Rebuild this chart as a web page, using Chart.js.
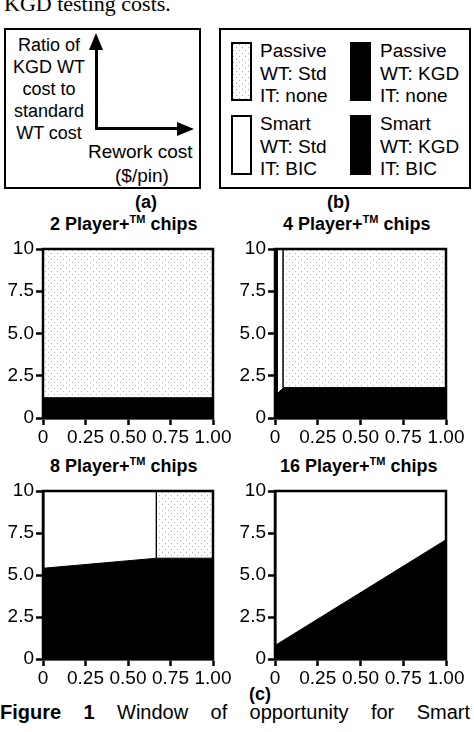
<!DOCTYPE html>
<html><head><meta charset="utf-8">
<script src="https://cdn.jsdelivr.net/npm/chart.js@4/dist/chart.umd.min.js"></script>
<style>
body{margin:0;width:474px;height:732px;position:relative;overflow:hidden;background:#fff;font-family:"Liberation Sans",Arial,sans-serif;color:#000}
.a{position:absolute;white-space:nowrap}
.box{position:absolute;border:2px solid #000;box-sizing:border-box}
.t{font-size:19px;line-height:22.5px}
.ttl{font-weight:bold;font-size:18px}
canvas{position:absolute}
.sw{position:absolute;border:2px solid #000;box-sizing:border-box}
</style></head><body>
<div class="a" style="left:4px;top:-9px;font-family:'Liberation Serif',serif;font-size:22px">KGD testing costs.</div>

<div class="box" style="left:4px;top:28px;width:197px;height:161px"></div>
<div class="a t" style="left:6px;top:34px;width:86px;text-align:center;line-height:22px;white-space:normal;font-size:18px">Ratio of KGD WT cost to standard WT cost</div>
<div class="a" style="left:95px;top:46px;width:3px;height:84px;background:#000"></div>
<div class="a" style="left:89px;top:33px;width:0;height:0;border-left:7px solid transparent;border-right:7px solid transparent;border-bottom:17px solid #000"></div>
<div class="a" style="left:95px;top:127px;width:84px;height:3px;background:#000"></div>
<div class="a" style="left:177px;top:122px;width:0;height:0;border-top:7px solid transparent;border-bottom:7px solid transparent;border-left:17px solid #000"></div>
<div class="a t" style="left:88px;top:141px">Rework cost</div>
<div class="a t" style="left:115px;top:165px">($/pin)</div>
<div class="a ttl" style="left:135px;top:192px">(a)</div>

<div class="box" style="left:219px;top:28px;width:252px;height:161px"></div>
<div class="sw" id="sw1" style="left:231px;top:42px;width:21px;height:59px"></div>
<div class="sw" style="left:231px;top:115px;width:21px;height:60px;background:#fff"></div>
<div class="sw" style="left:350px;top:42px;width:21px;height:59px;background:#000"></div>
<div class="sw" style="left:350px;top:115px;width:21px;height:60px;background:#000"></div>
<div class="a t" style="left:260px;top:40px">Passive<br>WT: Std<br>IT: none</div>
<div class="a t" style="left:260px;top:113px">Smart<br>WT: Std<br>IT: BIC</div>
<div class="a t" style="left:380px;top:40px">Passive<br>WT: KGD<br>IT: none</div>
<div class="a t" style="left:380px;top:113px">Smart<br>WT: KGD<br>IT: BIC</div>
<div class="a ttl" style="left:327px;top:192px">(b)</div>

<div class="a ttl" style="left:50px;top:213px">2 Player+<sup style="font-size:11px">TM</sup> chips</div>
<div class="a ttl" style="left:283px;top:213px">4 Player+<sup style="font-size:11px">TM</sup> chips</div>
<div class="a ttl" style="left:50px;top:455px">8 Player+<sup style="font-size:11px">TM</sup> chips</div>
<div class="a ttl" style="left:280px;top:455px">16 Player+<sup style="font-size:11px">TM</sup> chips</div>
<div class="a ttl" style="left:249px;top:684px">(c)</div>
<div class="a" style="left:0;top:701px;width:470px;font-size:20px;text-align:justify;text-align-last:justify;white-space:normal"><b>Figure 1</b> Window of opportunity for Smart</div>

<canvas id="c1"></canvas><canvas id="c2"></canvas><canvas id="c3"></canvas><canvas id="c4"></canvas>
<script>
// data
const xTicks=[0,0.25,0.5,0.75,1.0];
const xTickLabels=["0","0.25","0.50","0.75","1.00"];
const yTicks=[0,2.5,5,7.5,10];
const yTickLabels=["0","2.5","5.0","7.5","10"];
// panel 1 (2 chips)
const p1Black=[{x:0,y:1.2},{x:1,y:1.2}];
const p1Stipple=[{x:0,y:10},{x:1,y:10}];
// panel 2 (4 chips)
const p2Black=[{x:0,y:1.3},{x:0.05,y:1.8},{x:1,y:1.8}];
const p2Stipple=[{x:0.05,y:10},{x:1,y:10}];
const p2StippleBase=1.8;
const p2LineA=[{x:0.01,y:1.3},{x:0.01,y:10}];
const p2LineB=[{x:0.05,y:1.8},{x:0.05,y:10}];
// panel 3 (8 chips)
const p3Black=[{x:0,y:5.4},{x:0.67,y:6.0},{x:1,y:6.0}];
const p3Stipple=[{x:0.67,y:10},{x:1,y:10}];
const p3StippleBase=6.0;
const p3Line=[{x:0.67,y:6.0},{x:0.67,y:10}];
// panel 4 (16 chips)
const p4Black=[{x:0,y:0.8},{x:1,y:7.1}];

function stipple(){
  const c=document.createElement('canvas');c.width=6;c.height=6;
  const g=c.getContext('2d');g.fillStyle='#fff';g.fillRect(0,0,6,6);
  g.fillStyle='#aaa';g.fillRect(0,0,1,1);g.fillRect(3,3,1,1);
  return {c,p:g.createPattern(c,'repeat')};
}
const S=stipple();const pat=S.p;
document.getElementById('sw1').style.background='url('+S.c.toDataURL()+')';

const frame={id:'frame',afterDatasetsDraw(ch){const a=ch.chartArea,g=ch.ctx;g.save();g.strokeStyle='#000';g.lineWidth=2.5;g.strokeRect(a.left,a.top,a.right-a.left,a.bottom-a.top);g.restore();}};

const blk=d=>({data:d,fill:'origin',backgroundColor:'#000',borderColor:'#000',borderWidth:1});
const stp=(d,b)=>({data:d,fill:{value:b},backgroundColor:pat,borderWidth:0});
const ln=d=>({data:d,fill:false,borderColor:'#000',borderWidth:2.5});

function mk2(id,left,top,datasets){
  const cv=document.getElementById(id);
  const W=left===0?232:242;
  const bottom=(top<400?418:659), ptop=(top<400?249:491);
  const Hc=bottom-top+31;
  cv.style.left=left+'px';cv.style.top=top+'px';
  cv.width=W;cv.height=Hc;
  const plotLeft=(left===0?43:275)-left, plotRight=(left===0?213:446)-left;
  new Chart(cv,{type:'line',data:{datasets},plugins:[frame],
   options:{responsive:false,devicePixelRatio:1,animation:false,events:[],
    layout:{padding:{top:ptop-top,right:W-plotRight,left:plotLeft-43,bottom:0}},
    plugins:{legend:{display:false},tooltip:{enabled:false}},
    elements:{point:{radius:0},line:{tension:0}},
    scales:{
     x:{type:'linear',min:0,max:1,afterBuildTicks:s=>{s.ticks=xTicks.map(v=>({value:v}));},
        afterFit:s=>{s.height=31;s.paddingLeft=0;s.paddingRight=0;},
        grid:{drawOnChartArea:false,tickLength:7,tickWidth:2.5,color:'#000'},border:{color:'#000',width:2.5},
        ticks:{color:'#000',font:{family:'Liberation Sans',size:19},maxRotation:0,autoSkip:false,padding:1,callback:(v)=>xTickLabels[xTicks.indexOf(v)]}},
     y:{min:0,max:10,afterBuildTicks:s=>{s.ticks=yTicks.map(v=>({value:v}));},
        afterFit:s=>{s.width=43;s.paddingTop=0;s.paddingBottom=0;},
        grid:{drawOnChartArea:false,tickLength:7,tickWidth:2.5,color:'#000'},border:{color:'#000',width:2.5},
        ticks:{color:'#000',font:{family:'Liberation Sans',size:19},padding:2,callback:(v)=>yTickLabels[yTicks.indexOf(v)]}}
    }}});
}
mk2('c1',0,238,[blk(p1Black),stp(p1Stipple,p1Black[0].y)]);
mk2('c2',232,238,[blk(p2Black),stp(p2Stipple,p2StippleBase),ln(p2LineA),ln(p2LineB)]);
mk2('c3',0,480,[blk(p3Black),stp(p3Stipple,p3StippleBase),ln(p3Line)]);
mk2('c4',232,480,[blk(p4Black)]);
</script></body></html>
